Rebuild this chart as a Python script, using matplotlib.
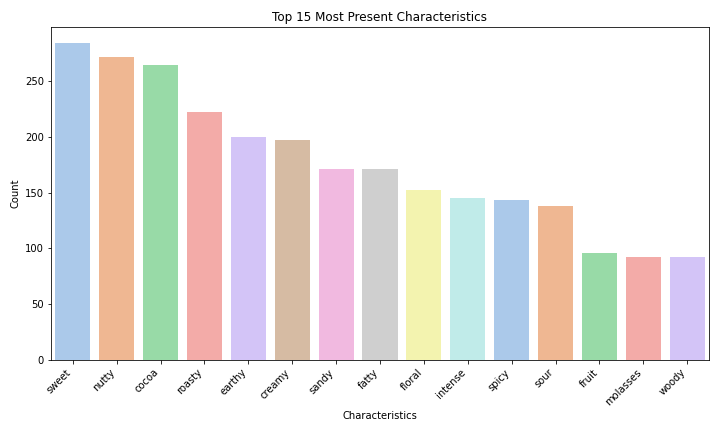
import matplotlib
matplotlib.use('Agg')
import matplotlib.pyplot as plt
import seaborn as sns
import pandas as pd

# top 15 characteristics
characteristics = ['sweet', 'nutty', 'cocoa', 'roasty', 'earthy', 'creamy', 'sandy', 'fatty',
                   'floral', 'intense', 'spicy', 'sour', 'fruit', 'molasses', 'woody']
counts = [284, 271, 264, 222, 200, 197, 171, 171, 152, 145, 143, 138, 96, 92, 92]

df = pd.DataFrame({'Characteristics': characteristics, 'Count': counts})

plt.figure(figsize=(10, 6), dpi=72)
sns.barplot(data=df, x='Characteristics', y='Count', hue='Characteristics',
            palette='pastel', legend=False)
plt.title('Top 15 Most Present Characteristics')
plt.xlabel('Characteristics')
plt.ylabel('Count')
plt.xticks(rotation=45, ha='right')
plt.tight_layout()
plt.savefig('out.png', dpi=72)
